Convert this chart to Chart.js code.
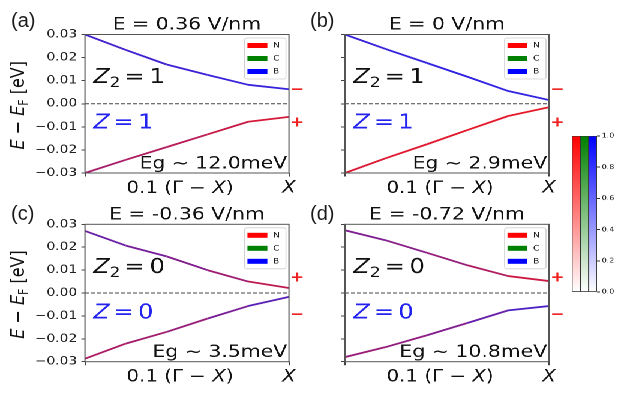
<!DOCTYPE html>
<html>
<head>
<meta charset="utf-8">
<script src="https://cdn.jsdelivr.net/npm/chart.js@4.4.1/dist/chart.umd.min.js"></script>
<style>
  body { margin: 0; background: #fff; width: 632px; height: 395px; overflow: hidden; }
  /* the original figure is stretched horizontally */
  #fig { position: absolute; left: 0; top: 0; width: 527px; height: 395px; transform: scaleX(1.2); transform-origin: 0 0; }
  #fig canvas { position: absolute; }
  .lbl { position: absolute; font: 20px 'Liberation Sans', Arial, sans-serif; color: #1a1a1a; line-height: 20px; }
</style>
</head>
<body>
<div id="fig">
  <canvas id="pa" width="263" height="198" style="left:0;top:0"></canvas>
  <canvas id="pb" width="211" height="198" style="left:263px;top:0"></canvas>
  <canvas id="pc" width="263" height="197" style="left:0;top:198px"></canvas>
  <canvas id="pd" width="211" height="197" style="left:263px;top:198px"></canvas>
  <canvas id="cb" width="87" height="190" style="left:440px;top:120px"></canvas>
</div>
<div class="lbl" style="left:11px;top:10px">(a)</div>
<div class="lbl" style="left:310px;top:10px">(b)</div>
<div class="lbl" style="left:11px;top:203px">(c)</div>
<div class="lbl" style="left:310px;top:203px">(d)</div>
<script>
// k path: 0 = 0.1(Γ-X) ... 1 = X
const kPath = [0, 0.2, 0.4, 0.6, 0.8, 1.0];

// band energies (eV) for panels a, b, c, d
const upperA = [0.0300, 0.0233, 0.0170, 0.0125, 0.0082, 0.0063];
const lowerA = [-0.0300, -0.0243, -0.0188, -0.0133, -0.0078, -0.0057];
const upperB = [0.0300, 0.0237, 0.0177, 0.0117, 0.0055, 0.0016];
const lowerB = [-0.0300, -0.0236, -0.0176, -0.0114, -0.0053, -0.0015];
const upperC = [0.0271, 0.0207, 0.0160, 0.0100, 0.0050, 0.0022];
const lowerC = [-0.0287, -0.0221, -0.0170, -0.0112, -0.0057, -0.0017];
const upperD = [0.0274, 0.0230, 0.0176, 0.0121, 0.0074, 0.0052];
const lowerD = [-0.0280, -0.0236, -0.0185, -0.0131, -0.0076, -0.0057];

// B-projection weight along each band (rest is N)
const upperWA = [0.88, 0.9, 0.92, 0.95, 0.97, 0.98];
const lowerWA = [0.38, 0.33, 0.28, 0.22, 0.12, 0.06];
const upperWB = [0.95, 0.97, 1, 1, 1, 1];
const lowerWB = [0.08, 0.05, 0.03, 0.02, 0, 0];
const upperWC = [0.7, 0.65, 0.6, 0.5, 0.3, 0.15];
const lowerWC = [0.3, 0.35, 0.4, 0.5, 0.7, 0.85];
const upperWD = [0.6, 0.55, 0.5, 0.4, 0.2, 0.1];
const lowerWD = [0.4, 0.45, 0.5, 0.6, 0.8, 0.9];

const yTicks = [-0.03, -0.02, -0.01, 0, 0.01, 0.02, 0.03];
const yTickLabels = ['\u22120.03', '\u22120.02', '\u22120.01', '0.00', '0.01', '0.02', '0.03'];

const fieldTitles = ['E = 0.36 V/nm', 'E = 0 V/nm', 'E = -0.36 V/nm', 'E = -0.72 V/nm'];
const gapLabels = ['Eg ~ 12.0meV', 'Eg ~ 2.9meV', 'Eg ~ 3.5meV', 'Eg ~ 10.8meV'];
const z2Values = ['1', '1', '0', '0'];
const zValues = ['1', '1', '0', '0'];
const upperSigns = ['\u2212', '\u2212', '+', '+'];
const lowerSigns = ['+', '+', '\u2212', '\u2212'];

const legendLabels = ['N', 'C', 'B'];
const legendColors = ['#ff0000', '#008000', '#0000ff'];

const cbarTicks = [0, 0.2, 0.4, 0.6, 0.8, 1.0];
const cbarTickLabels = ['0.0', '0.2', '0.4', '0.6', '0.8', '1.0'];

Chart.defaults.font.family = "'DejaVu Sans'";

const FONT = "'DejaVu Sans'";

function mix(w) {
    const r = Math.round(230 * (1 - w) + 50 * w);
    const g = Math.round(25 * (1 - w) + 35 * w);
    const b = Math.round(40 * (1 - w) + 225 * w);
    return `rgb(${r},${g},${b})`;
}

function runWidth(ctx, parts) {
    let w = 0;
    parts.forEach(p => { ctx.font = p.f; w += ctx.measureText(p.t).width + (p.g || 0); });
    return w;
}

function drawRun(ctx, x, y, parts) {
    let cx = x;
    parts.forEach(p => {
        ctx.font = p.f;
        ctx.fillText(p.t, cx, y + (p.dy || 0));
        cx += ctx.measureText(p.t).width + (p.g || 0);
    });
}

function bandDataset(vals, w) {
    return {
        data: kPath.map((x, i) => ({ x: x, y: vals[i] })),
        borderColor: mix(w[0]),
        segment: { borderColor: c => mix((w[c.p0DataIndex] + w[c.p1DataIndex]) / 2) },
        borderWidth: 1.8,
        pointRadius: 0,
        tension: 0
    };
}

const panels = [
    { id: 'pa', up: upperA, lo: lowerA, wu: upperWA, wl: lowerWA, top: 34.5, right: 22.2, yw: 70.8, xh: 25, labels: true, uy: 0.0065, ly: -0.0079 },
    { id: 'pb', up: upperB, lo: lowerB, wu: upperWB, wl: lowerWB, top: 34.5, right: 16.5, yw: 24.5, xh: 25, labels: false, uy: 0.0065, ly: -0.0079 },
    { id: 'pc', up: upperC, lo: lowerC, wu: upperWC, wl: lowerWC, top: 26.3, right: 22.2, yw: 70.8, xh: 33.3, labels: true, uy: 0.0070, ly: -0.0090 },
    { id: 'pd', up: upperD, lo: lowerD, wu: upperWD, wl: lowerWD, top: 26.3, right: 16.5, yw: 24.5, xh: 33.3, labels: false, uy: 0.0070, ly: -0.0090 }
];

panels.forEach((p, n) => {
    const deco = {
        id: 'deco',
        afterDatasetsDraw(chart) {
            const ctx = chart.ctx, a = chart.chartArea, ys = chart.scales.y;
            ctx.save();
            // frame
            ctx.strokeStyle = '#555';
            ctx.lineWidth = 1;
            ctx.strokeRect(a.left, a.top, a.right - a.left, a.bottom - a.top);

            ctx.textBaseline = 'alphabetic';
            ctx.fillStyle = '#111';
            // title
            ctx.font = `17px ${FONT}`;
            ctx.textAlign = 'center';
            ctx.fillText(fieldTitles[n], (a.left + a.right) / 2, a.top - 5);

            // x label
            ctx.textAlign = 'left';
            const xl = [
                { t: '0.1 (\u0393 \u2212 ', f: `16.5px ${FONT}` },
                { t: 'X', f: `italic 16.5px ${FONT}` },
                { t: ')', f: `16.5px ${FONT}` }
            ];
            const xw = runWidth(ctx, xl);
            drawRun(ctx, a.left + 0.466 * (a.right - a.left) - xw / 2, a.bottom + 20, xl);

            // y label
            if (p.labels) {
                const yl = [
                    { t: 'E', f: `italic 16px ${FONT}` },
                    { t: ' \u2212 ', f: `16px ${FONT}` },
                    { t: 'E', f: `italic 16px ${FONT}` },
                    { t: 'F', f: `11px ${FONT}`, dy: 3 },
                    { t: ' [eV]', f: `16px ${FONT}` }
                ];
                const yw = runWidth(ctx, yl);
                ctx.save();
                ctx.translate(20, (a.top + a.bottom) / 2 + 1.5);
                ctx.rotate(-Math.PI / 2);
                drawRun(ctx, -yw / 2, 0, yl);
                ctx.restore();
            }

            // Z2 and Z
            const lx = a.left + 6.9;
            drawRun(ctx, lx, a.top + 48.5, [
                { t: 'Z', f: `italic 20px ${FONT}` },
                { t: '2', f: `14px ${FONT}`, dy: 4, g: 3.5 },
                { t: '=', f: `20px ${FONT}`, g: 4 },
                { t: z2Values[n], f: `20px ${FONT}` }
            ]);
            ctx.fillStyle = '#2323f0';
            drawRun(ctx, lx, a.top + 94, [
                { t: 'Z', f: `italic 20px ${FONT}`, g: 3.5 },
                { t: '=', f: `20px ${FONT}`, g: 3.5 },
                { t: zValues[n], f: `20px ${FONT}` }
            ]);

            // gap
            ctx.fillStyle = '#111';
            ctx.font = `17px ${FONT}`;
            ctx.textAlign = 'right';
            ctx.fillText(gapLabels[n], a.right - 1.5, a.bottom - 4.5);

            // legend
            const bw = 34.5, bh = 41;
            const bx = a.right - 2.5 - bw, by = a.top + 3.5;
            ctx.beginPath();
            ctx.roundRect(bx, by, bw, bh, 2);
            ctx.fillStyle = 'rgba(255,255,255,0.85)';
            ctx.fill();
            ctx.strokeStyle = '#d0d0d0';
            ctx.lineWidth = 0.8;
            ctx.stroke();
            ctx.textAlign = 'left';
            ctx.textBaseline = 'middle';
            ctx.font = `7.5px ${FONT}`;
            legendLabels.forEach((lab, i) => {
                const cy = by + 7.5 + i * 13;
                ctx.fillStyle = legendColors[i];
                ctx.fillRect(bx + 2.4, cy - 2.5, 16.6, 5);
                ctx.fillStyle = '#222';
                ctx.fillText(lab, bx + 23.8, cy);
            });

            // parity signs
            ctx.textAlign = 'center';
            ctx.textBaseline = 'alphabetic';
            ctx.fillStyle = '#ee2020';
            ctx.font = `bold 14px ${FONT}`;
            ctx.fillText(upperSigns[n], a.right + 7, ys.getPixelForValue(p.uy) + 0.34 * 14);
            ctx.fillText(lowerSigns[n], a.right + 7, ys.getPixelForValue(p.ly) + 0.34 * 14);
            ctx.restore();
        }
    };

    new Chart(document.getElementById(p.id), {
        type: 'line',
        data: {
            datasets: [
                { data: [{ x: 0, y: 0 }, { x: 1, y: 0 }], borderColor: '#444', borderWidth: 1, borderDash: [3.2, 1.8], pointRadius: 0 },
                bandDataset(p.up, p.wu),
                bandDataset(p.lo, p.wl)
            ]
        },
        options: {
            responsive: false,
            animation: false,
            devicePixelRatio: 2,
            events: [],
            layout: { padding: { left: 0, top: p.top, right: p.right, bottom: 0 } },
            plugins: { legend: { display: false }, tooltip: { enabled: false } },
            scales: {
                x: {
                    type: 'linear', min: 0, max: 1,
                    afterBuildTicks: s => { s.ticks = [{ value: 0 }, { value: 1 }]; },
                    afterFit: s => { s.height = p.xh; },
                    ticks: { callback: v => (v === 1 ? 'X' : ''), font: { size: 16.5, style: 'italic' }, color: '#111', padding: 2, maxRotation: 0 },
                    grid: { drawOnChartArea: false, tickLength: 3.5, color: '#444' },
                    border: { display: false }
                },
                y: {
                    min: -0.03, max: 0.03,
                    afterBuildTicks: s => { s.ticks = yTicks.map(v => ({ value: v })); },
                    afterFit: s => { s.width = p.yw; },
                    ticks: { callback: (v, i) => (p.labels ? yTickLabels[i] : ''), font: { size: 11.5 }, color: '#222', padding: 3.5 },
                    grid: { drawOnChartArea: false, tickLength: 3, color: '#444' },
                    border: { display: false }
                }
            }
        },
        plugins: [deco]
    });
});

// colour bar: projection weight scale for N, C, B
new Chart(document.getElementById('cb'), {
    type: 'bar',
    data: {
        labels: legendLabels,
        datasets: [{
            data: legendLabels.map(() => 1),
            backgroundColor: c => {
                const a = c.chart.chartArea;
                if (!a) return legendColors[c.dataIndex];
                const g = c.chart.ctx.createLinearGradient(0, a.bottom, 0, a.top);
                g.addColorStop(0, '#ffffff');
                g.addColorStop(1, legendColors[c.dataIndex]);
                return g;
            },
            borderColor: '#333',
            borderWidth: 0.8,
            borderSkipped: false,
            barPercentage: 1,
            categoryPercentage: 1
        }]
    },
    options: {
        responsive: false,
        animation: false,
        devicePixelRatio: 2,
        events: [],
        layout: { padding: { left: 36.7, top: 16, bottom: 18, right: 0 } },
        plugins: { legend: { display: false }, tooltip: { enabled: false } },
        scales: {
            x: { display: false },
            y: {
                position: 'right', min: 0, max: 1,
                afterBuildTicks: s => { s.ticks = cbarTicks.map(v => ({ value: v })); },
                afterFit: s => { s.width = 29.5; },
                ticks: { callback: (v, i) => cbarTickLabels[i], font: { size: 6.5 }, color: '#222', padding: 1.5 },
                grid: { drawOnChartArea: false, tickLength: 2.5, color: '#333' },
                border: { display: false }
            }
        }
    }
});
</script>
</body>
</html>
